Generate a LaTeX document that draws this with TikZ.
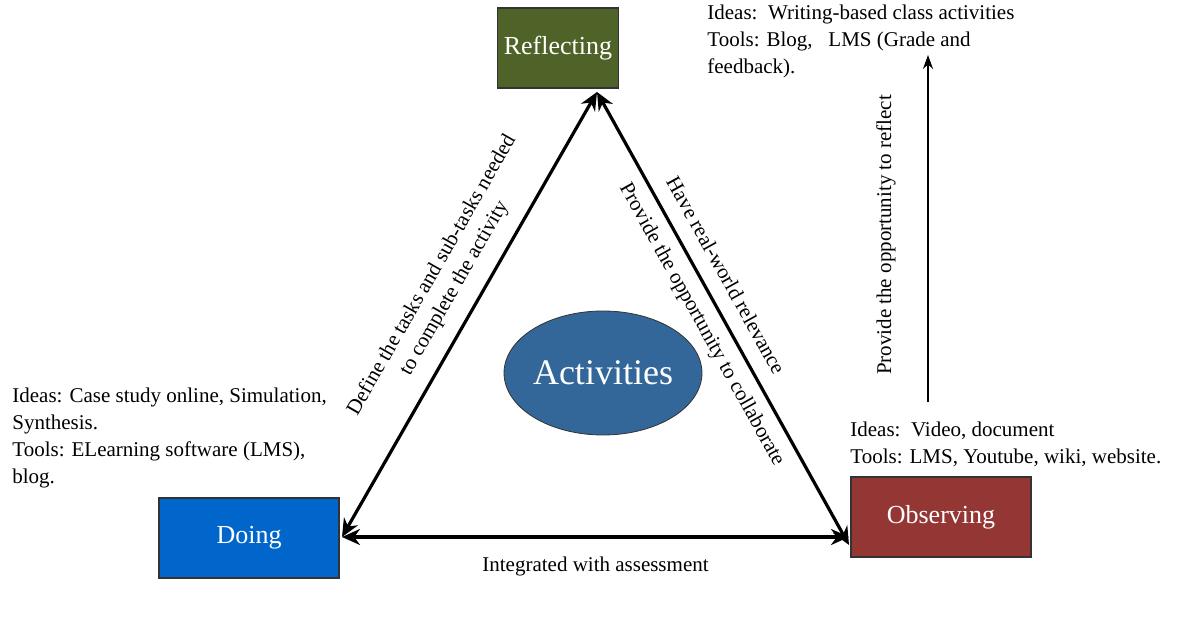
\documentclass[tikz,border=0pt]{standalone}
\usepackage{fontspec}
\setmainfont{Liberation Serif}
\usetikzlibrary{shapes.geometric,arrows.meta}
\begin{document}
\begin{tikzpicture}[x=0.5pt,y=-0.5pt,
  box/.style={draw=black!80,line width=0.6pt,minimum width=90pt,minimum height=40pt,text=white,font=\fontsize{13}{15}\selectfont},
  txt/.style={font=\fontsize{10.5}{13.5}\selectfont,align=left,anchor=north west,inner sep=0pt},
  lab/.style={font=\fontsize{10.5}{13}\selectfont,align=center},
  dbl/.style={{Stealth[length=9pt,width=8pt]}-{Stealth[length=9pt,width=8pt]},line width=1.6pt}]
\useasboundingbox (0,0) rectangle (1200,630);
\node[box,fill={rgb,255:red,79;green,98;blue,40},minimum width=55pt] (refl) at (558,48) {Reflecting};
\node[box,fill={rgb,255:red,0;green,102;blue,204}] (doing) at (249,538) {Doing};
\node[box,fill={rgb,255:red,148;green,54;blue,52}] (obs) at (941,517) {Observing};
\node[ellipse,draw=black!80,fill={rgb,255:red,51;green,102;blue,153},inner sep=0pt,minimum width=97pt,minimum height=62pt,text=white,font=\fontsize{18}{20}\selectfont] (act) at (603,373) {Activities};
\coordinate (dR) at (342,537);
\coordinate (rB) at (597,92);
\coordinate (oL) at (849,545);
\coordinate (oB) at (849,537);
\draw[dbl] (dR) -- (rB) node[lab,pos=0.53,sloped,above=4pt] {Define the tasks and sub-tasks needed\\to complete the activity};
\draw[dbl] (rB) -- (oL)
  node[lab,pos=0.43,sloped,above=4pt] {Have real-world relevance}
  node[lab,pos=0.49,sloped,below=2pt] {Provide the opportunity to collaborate};
\draw[dbl] (dR) -- (oB) node[lab,midway,below=6pt] {Integrated with assessment};
\coordinate (vb) at (928,402);
\coordinate (vt) at (928,55);
\draw[-{Stealth[length=7pt,width=5pt]},line width=0.8pt] (vb) -- (vt);
\node[lab,rotate=90] (vl) at (886,235) {Provide the opportunity to reflect};
\node[txt] (t1) at (707,5) {Ideas:\ \ Writing-based class activities\\Tools: Blog,\ \ \ LMS (Grade and\\feedback).};
\node[txt] (t2) at (12,388) {Ideas: Case study online, Simulation,\\Synthesis.\\Tools: ELearning software (LMS),\\blog.};
\node[txt] (t3) at (850,422) {Ideas:\ \ Video, document\\Tools: LMS, Youtube, wiki, website.};
\end{tikzpicture}
\end{document}
